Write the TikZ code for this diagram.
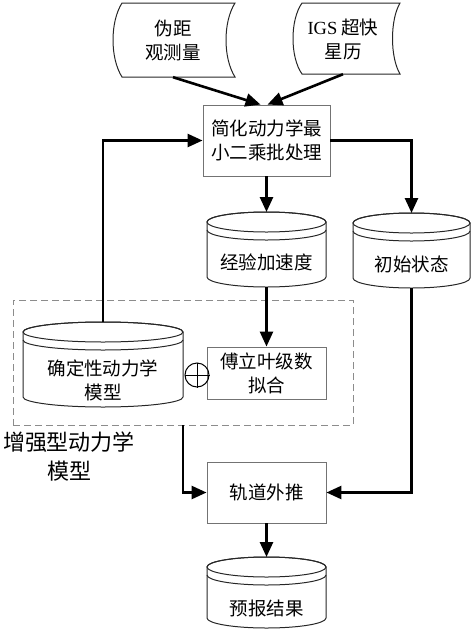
\documentclass[tikz,border=0pt]{standalone}
\usepackage{fontspec}
\setmainfont{Noto Sans CJK SC}
\newfontfamily\latinf{Liberation Serif}
\usetikzlibrary{arrows.meta,calc}
% name, cx, ytop, rx, h
\newcommand\mycyl[5]{%
  \node[minimum width=2*#4 pt, minimum height=#5 pt, inner sep=0pt, outer sep=0pt] (#1) at (#2,{-#3-#5/2}) {};
  \draw[cylline] ({#2-#4},{-#3-10}) -- ({#2-#4},{-#3-#5+10})
     arc[start angle=180,end angle=360,x radius=#4 pt,y radius=10pt]
     -- ({#2+#4},{-#3-10})
     arc[start angle=0,end angle=180,x radius=#4 pt,y radius=10pt];
  \draw[cylline] (#2,{-#3-10}) ellipse[x radius=#4 pt,y radius=10pt];
  \draw[cylline] ({#2-#4},{-#3-18}) arc[start angle=180,end angle=360,x radius=#4 pt,y radius=10pt];
}
\begin{document}
\begin{tikzpicture}[x=1pt,y=1pt,
  txt/.style={font=\fontsize{18.5}{24}\selectfont, align=center, inner sep=0pt},
  arr/.style={line width=2.6pt, -{Triangle[length=15pt,width=13pt]}},
  gbox/.style={draw=black!55, line width=0.9pt, fill=white, inner sep=0pt, align=center, font=\fontsize{18.5}{24}\selectfont},
  cylline/.style={draw=black!85, line width=1pt},
  sdline/.style={draw=black!85, line width=1pt},
  dashbox/.style={draw=black!45, dash pattern=on 7pt off 4pt, line width=0.8pt},
]
\useasboundingbox (0,0) rectangle (474,-630);

% stored data shapes
\draw[sdline] (122,-3) -- (235,-3) .. controls (223,-22) and (223,-58) .. (235,-77)
  -- (122,-77) .. controls (110,-58) and (110,-22) .. (122,-3) -- cycle;
\node[minimum width=115pt, minimum height=74pt, inner sep=0pt] (pr) at (176,-40) {};
\node[txt] (prt) at (173,-40) {伪距\\观测量};

\draw[sdline] (302,-3) -- (400,-3) .. controls (390,-20) and (390,-57) .. (400,-74)
  -- (302,-74) .. controls (290,-57) and (290,-20) .. (302,-3) -- cycle;
\node[minimum width=98pt, minimum height=71pt, inner sep=0pt] (igs) at (345,-38.5) {};
\node[txt] (igst) at (343,-39) {{\latinf IGS} 超快\\星历};

% boxes
\node[gbox, minimum width=127pt, minimum height=71pt] (lsq) at (266.5,-140.5) {简化动力学最\\小二乘批处理};
\node[gbox, minimum width=119pt, minimum height=52pt] (fou) at (266.5,-373) {傅立叶级数\\拟合};
\node[gbox, minimum width=119pt, minimum height=61pt] (orb) at (266.5,-492.5) {轨道外推};

% dashed box
\node[dashbox, minimum width=340pt, minimum height=125pt, inner sep=0pt] (dash) at (183,-362.5) {};

% cylinders
\mycyl{acc}{266.5}{212}{59.5}{75}
\node[txt] (acct) at (266.5,-262) {经验加速度};
\mycyl{init}{411.5}{213}{58.5}{75}
\node[txt] (initt) at (411.5,-264) {初始状态};
\mycyl{det}{103}{322}{80}{85}
\node[txt] (dett) at (103,-380) {确定性动力学\\模型};
\mycyl{pred}{266.5}{557}{59.5}{71}
\node[txt] (predt) at (266.5,-608) {预报结果};

% plus
\node[draw=black, line width=1pt, circle, minimum size=24pt, inner sep=0pt] (plus) at (197,-375) {};
\draw[line width=1pt] (plus.north) -- (plus.south) (plus.west) -- (plus.east);

% label
\node[font=\fontsize{22}{29}\selectfont, align=center, inner sep=0pt] (lbl) at (69,-457) {增强型动力学\\模型};

% connectors
\draw[arr] (pr.south -| prt.south) -- ([xshift=-6pt]lsq.north);
\draw[arr] (igs.south -| igst.south) -- ([xshift=1pt]lsq.north);
\draw[arr] (det.north) |- (lsq.west);
\draw[arr] (lsq.east) -| (init.north);
\draw[arr] (lsq.south) -- (acc.north);
\draw[arr] (acc.south) -- (fou.north);
\draw[arr] (dash.south) |- (orb.west);
\draw[arr] (init.south) |- (orb.east);
\draw[arr] (orb.south) -- (pred.north);
\end{tikzpicture}
\end{document}
